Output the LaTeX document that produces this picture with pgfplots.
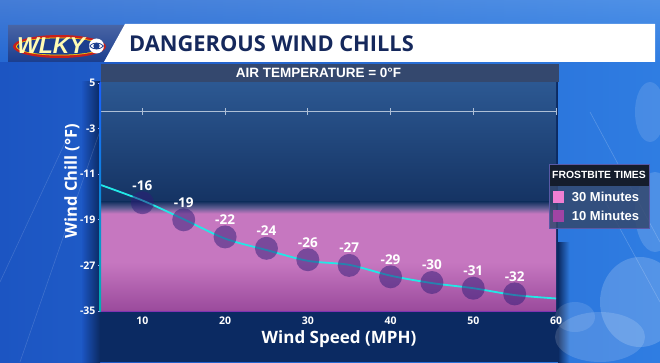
\documentclass[border=0pt]{standalone}
\usepackage{fontspec}
\setmainfont{Open Sans}
\newfontfamily\lib{Liberation Sans}
\usepackage{pgfplots}
\pgfplotsset{compat=1.18}
\definecolor{bgL}{HTML}{1C55C2}
\definecolor{bgR}{HTML}{2F7DE2}
\definecolor{navy}{HTML}{13305F}
\definecolor{navyT}{HTML}{2C5892}
\definecolor{navyD}{HTML}{0B2A62}
\definecolor{pinkA}{HTML}{C677C0}
\definecolor{pinkB}{HTML}{9A4A9C}
\definecolor{haze}{HTML}{5E5C92}
\definecolor{cyanL}{HTML}{22E8E6}
\definecolor{circ}{HTML}{2E1C78}
\definecolor{slate}{HTML}{34486E}
\definecolor{zeroL}{HTML}{AEBFD6}
\definecolor{titleNavy}{HTML}{15285C}
\definecolor{legPink}{HTML}{F07FD2}
\definecolor{legPurple}{HTML}{A044A4}
\definecolor{logoBlue}{HTML}{1B3E8E}
\definecolor{logoRed}{HTML}{C8201C}
\begin{document}
\begin{tikzpicture}[x=1pt,y=1pt]
\useasboundingbox (0,0) rectangle (660,362);
\begin{scope}
\clip (0,0) rectangle (660,362);
% background
\shade[left color=bgL, right color=bgR] (0,0) rectangle (660,362);
\shade[top color=bgR!70!white, bottom color=bgR, opacity=0.5] (0,300) rectangle (660,362);
% dark centre panel
\shade[left color=bgL, right color=navyD] (82,0) rectangle (100,280);
\fill[navyD] (100,0) rectangle (558,280);
\shade[left color=navyD, right color=bgR] (558,0) rectangle (570,120);
% clouds bottom right
\fill[white, opacity=0.18] (640,60) ellipse (40 and 45);
\fill[white, opacity=0.15] (600,25) ellipse (45 and 25);
\fill[white, opacity=0.15] (655,150) ellipse (20 and 40);
\fill[white, opacity=0.12] (575,45) ellipse (20 and 15);
\fill[white, opacity=0.12] (650,250) ellipse (15 and 30);
% diagonal streaks
\draw[white, opacity=0.15, line width=0.6] (0,80) -- (70,230);
\draw[white, opacity=0.15, line width=0.6] (20,0) -- (110,260);
\draw[white, opacity=0.2, line width=0.6] (600,170) -- (660,60);
\draw[white, opacity=0.2, line width=0.6] (590,250) -- (660,120);
% plot area
\shade[top color=navyT, bottom color=navy] (101,150) rectangle (556,279);
\fill[navy] (101,51) rectangle (556,150);
\end{scope}
% header
\shade[top color=logoBlue!80!white, bottom color=logoBlue] (8,300) -- (104,300) -- (125,337) -- (8,337) -- cycle;
\fill[white] (104,300) -- (125,338) -- (655,338) -- (655,300) -- cycle;
\node[anchor=west, text=titleNavy, font=\bfseries\fontsize{21.8}{21.8}\selectfont, inner sep=0] at (129,318.5) {DANGEROUS WIND CHILLS};
% logo
\fill[logoRed] (59.5,315.5) ellipse (46.5 and 11.5);
\fill[yellow!70!orange] (59.5,315.5) ellipse (43.5 and 9);
\fill[logoBlue] (59.5,315.5) ellipse (42.5 and 8.2);
\node[text=yellow!30!white, font=\lib\bfseries\itshape\fontsize{23}{23}\selectfont, inner sep=0] at (51,316) {WLKY};
\fill[white] (96.5,316) circle (7.5);
\fill[logoBlue] (96.5,316) circle (3.2);
\draw[logoBlue, line width=0.8] (89.5,316) .. controls (93,320) and (100,320) .. (103.5,316) .. controls (100,312) and (93,312) .. (89.5,316);
% title bar
\fill[slate] (100.7,280) rectangle (559,298);
\node[text=white, font=\lib\bfseries\fontsize{13.5}{13.5}\selectfont, inner sep=0] at (318.5,289) {AIR TEMPERATURE = 0°F};
% axis
\begin{axis}[at={(101pt,51pt)}, anchor=south west, scale only axis,
  width=455pt, height=228pt,
  xmin=5, xmax=60, ymin=-35, ymax=5,
  xtick={10,20,30,40,50,60}, ytick={5,-3,-11,-19,-27,-35},
  axis line style={draw=none},
  x tick style={draw=none},
  y tick style={draw=white!70!blue, line width=0.8},
  major tick length=3pt,
  tick align=outside, xtick pos=bottom, ytick pos=left,
  /pgf/number format/assume math mode=true,
  ticklabel style={text=white, font=\bfseries\fontsize{10.5}{10.5}\selectfont},
  yticklabel style={xshift=1pt},
  xticklabel style={yshift=1pt},
  clip=false]
% pink frostbite area
\addplot[draw=none, top color=pinkA, bottom color=pinkB, middle color=pinkA] coordinates {(5,-35) (5,-17.9) (60,-17.9) (60,-35)} -- cycle;
\addplot[draw=none, top color=navy, bottom color=pinkA, middle color=haze] coordinates {(5,-17.9) (5,-15.8) (60,-15.8) (60,-17.9)} -- cycle;
% zero line
\addplot[zeroL, line width=1] coordinates {(5,0) (60,0)};
\addplot[only marks, mark=|, mark size=3.2, zeroL, mark options={draw=zeroL, line width=0.9}] coordinates {(10,0) (20,0) (30,0) (40,0) (50,0) (60,0)};
% wind chill line
\addplot[cyanL, line width=1.8, smooth, tension=0.5] coordinates {(5,-12.9) (10,-15.6) (15,-18.9) (20,-22.3) (25,-24.3) (30,-26.2) (35,-26.9) (40,-28.8) (45,-30.1) (50,-31.0) (55,-32.2) (60,-32.8)};
% circles
\addplot[only marks, draw opacity=0, mark=*, mark size=11.5,
  mark options={fill=circ, draw opacity=0, line width=0pt, fill opacity=0.5},
  nodes near coords, point meta=explicit symbolic,
  nodes near coords style={text=white, anchor=center, yshift=17.5pt, font=\bfseries\fontsize{13.5}{13.5}\selectfont, text opacity=1}]
  coordinates {(10,-16) [-16] (15,-19) [-19] (20,-22) [-22] (25,-24) [-24] (30,-26) [-26] (35,-27) [-27] (40,-29) [-29] (45,-30) [-30] (50,-31) [-31] (55,-32) [-32]};
\end{axis}
% axis lines
\shade[top color=blue!70!cyan!90!white, bottom color=teal!60!cyan] (99.6,51) rectangle (101.2,279);
\fill[blue!50!purple!80!white] (101,50.5) rectangle (556,51.5);
% axis labels
\node[rotate=90, text=white, font=\bfseries\fontsize{16.5}{16.5}\selectfont] at (72,181) {Wind Chill (°F)};
\node[text=white, font=\bfseries\fontsize{17}{17}\selectfont] at (339,23) {Wind Speed (MPH)};
% legend
\fill[slate, opacity=0.85] (549,134) rectangle (649.3,176.3);
\fill[black!60!slate] (549,176.3) rectangle (649.3,197.3);
\draw[gray!70!blue, line width=0.6] (549,134) rectangle (649.3,197.3);
\node[text=white, font=\lib\bfseries\fontsize{10.4}{10.4}\selectfont] at (599,186.8) {FROSTBITE TIMES};
\fill[legPink] (552.7,159.3) rectangle (564,171.3);
\fill[legPurple] (552.7,140) rectangle (564,152);
\node[anchor=west, inner sep=0, text=white, font=\lib\bfseries\fontsize{13}{13}\selectfont] at (571.7,165.3) {30 Minutes};
\node[anchor=west, inner sep=0, text=white, font=\lib\bfseries\fontsize{13}{13}\selectfont] at (571.7,146) {10 Minutes};
\end{tikzpicture}
\end{document}
